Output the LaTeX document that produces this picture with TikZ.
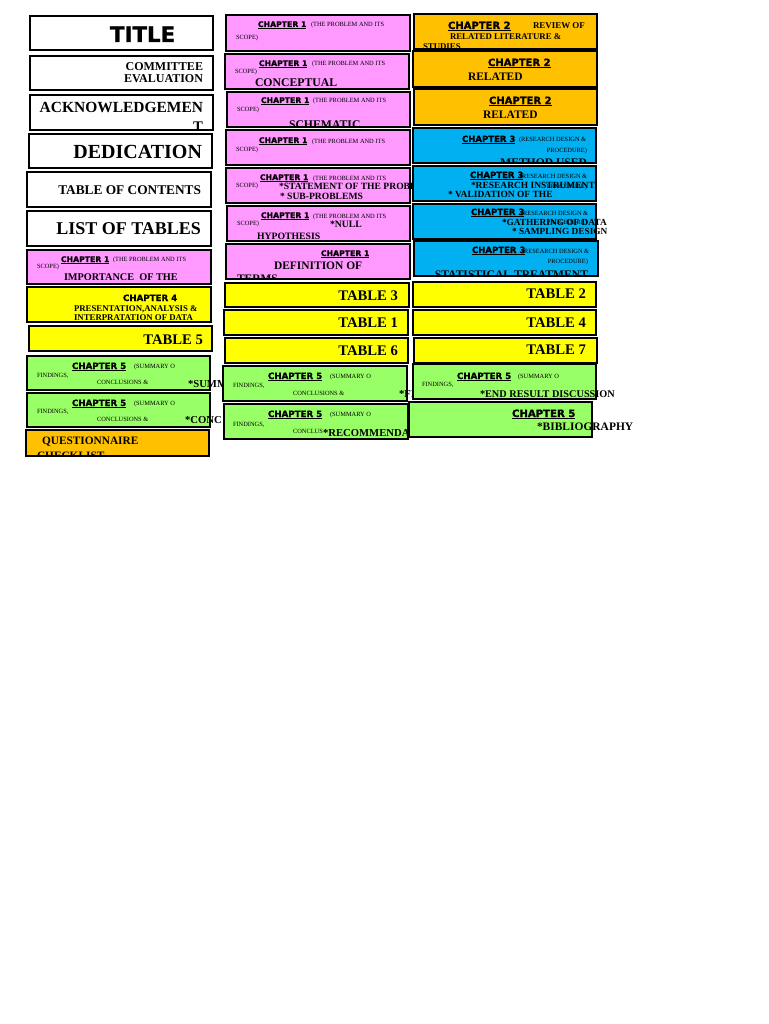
\documentclass[tikz,border=0pt]{standalone}
\usepackage{fontspec}
\setmainfont{Liberation Serif}
\newfontfamily\hvb[FakeBold=1.2]{DejaVu Sans Bold}
\definecolor{pk}{HTML}{FF99FF}
\definecolor{orr}{HTML}{FFC000}
\definecolor{bl}{HTML}{00B0F0}
\definecolor{ye}{HTML}{FFFF00}
\definecolor{gr}{HTML}{99FF66}
\newcommand\chul[1]{\setbox0\hbox{#1}\rlap{\rule[-1.3pt]{\wd0}{0.6pt}}\box0}
\tikzset{
 bd/.style={draw=black, line width=1.1pt},
 tl/.style={anchor=base west, inner sep=0pt, outer sep=0pt},
 tr/.style={anchor=base east, inner sep=0pt, outer sep=0pt},
 sm/.style={font=\fontsize{4.8}{5}\selectfont},
 ch/.style={font=\hvb\fontsize{#1}{#1}\selectfont},
 tb/.style={font=\bfseries\fontsize{#1}{#1}\selectfont},
}
\newcommand\cbox[6]{%
  \fill[#5] (#1,#2) rectangle (#3,#4);
  \begin{scope}\clip (#1,#2) rectangle (700,#4); #6 \end{scope}
  \draw[bd] (#1,#2) rectangle (#3,#4);}
\begin{document}
\begin{tikzpicture}[x=0.75pt,y=-0.75pt]
\fill[white] (0,0) rectangle (768,1024);
\useasboundingbox (0,0) rectangle (768,1024);
% ---------- column 1 ----------
\cbox{30}{16}{213}{50}{white}{\node[tl,ch=16] (a1) at (110,42) {TITLE};}
\cbox{30}{56}{213}{90}{white}{\node[tr,tb=9] (a2) at (203,71) {COMMITTEE}; \node[tr,tb=9] (a3) at (203,83) {EVALUATION};}
\cbox{30}{95}{213}{130}{white}{\node[tr,tb=11.6] (a4) at (203,113) {ACKNOWLEDGEMEN}; \node[tr,tb=11] (a5) at (203,131) {T};}
\cbox{29}{134}{212}{168}{white}{\node[tr,tb=15] (a6) at (202,158) {DEDICATION};}
\cbox{27}{172}{211}{207}{white}{\node[tr,tb=10] (a7) at (201,194) {TABLE OF CONTENTS};}
\cbox{27}{211}{211}{246}{white}{\node[tr,tb=13.5] (a8) at (201,234) {LIST OF TABLES};}
\cbox{27}{250}{211}{284}{pk}{\node[tl,ch=5.8] (a9) at (61,262) {\chul{CHAPTER 1}};
  \node[tl,sm] (a10) at (113,261) {(THE PROBLEM AND ITS};
  \node[tl,sm] (a11) at (37,268) {SCOPE)};
  \node[tl,tb=7.7] (a12) at (64,280) {IMPORTANCE\ \ OF THE};}
\cbox{27}{287}{211}{322}{ye}{\node[tl,ch=6.5] (a13) at (123,301) {CHAPTER 4};
  \node[tl,tb=6.6] (a14) at (74,311) {PRESENTATION,ANALYSIS \&};
  \node[tl,tb=6.6] (a15) at (74,320) {INTERPRATATION OF DATA};}
\cbox{29}{326}{212}{351}{ye}{\node[tr,tb=11] (a16) at (203,344) {TABLE 5};}
\cbox{27}{356}{210}{390}{gr}{\node[tl,ch=6.5] (a17) at (72,369) {\chul{CHAPTER 5}};
  \node[tl,sm] (a18) at (134,368) {(SUMMARY O};
  \node[tl,sm] (a19) at (37,377) {FINDINGS,};
  \node[tl,sm] (a20) at (97,384) {CONCLUSIONS \&};
  \node[tl,tb=8] (a21) at (188,387) {*SUMM};}
\cbox{27}{393}{210}{427}{gr}{\node[tl,ch=6.5] (a22) at (72,406) {\chul{CHAPTER 5}};
  \node[tl,sm] (a23) at (134,405) {(SUMMARY O};
  \node[tl,sm] (a24) at (37,413) {FINDINGS,};
  \node[tl,sm] (a25) at (97,421) {CONCLUSIONS \&};
  \node[tl,tb=8] (a26) at (185,423) {*CONC};}
\cbox{26}{430}{209}{456}{orr}{\node[tl,tb=8.5] (a27) at (42,444) {QUESTIONNAIRE};
  \node[tl,tb=8.5] (a28) at (37,459) {CHECKLIST};}
% ---------- column 2 ----------
\cbox{226}{15}{410}{51}{pk}{\node[tl,ch=5.8] (b1) at (258,27) {\chul{CHAPTER 1}};
  \node[tl,sm] (b2) at (311,27) {(THE PROBLEM AND ITS};
  \node[tl,sm] (b3) at (236,40) {SCOPE)};}
\cbox{225}{54}{409}{89}{pk}{\node[tl,ch=5.8] (b4) at (259,66) {\chul{CHAPTER 1}};
  \node[tl,sm] (b5) at (312,66) {(THE PROBLEM AND ITS};
  \node[tl,sm] (b6) at (235,74) {SCOPE)};
  \node[tl,tb=8.8] (b7) at (255,86) {CONCEPTUAL};}
\cbox{227}{92}{410}{127}{pk}{\node[tl,ch=5.8] (b8) at (261,103) {\chul{CHAPTER 1}};
  \node[tl,sm] (b9) at (313,103) {(THE PROBLEM AND ITS};
  \node[tl,sm] (b10) at (237,111) {SCOPE)};
  \node[tl,tb=8.8] (b11) at (289,128) {SCHEMATIC};}
\cbox{226}{130}{410}{165}{pk}{\node[tl,ch=5.8] (b12) at (259,143) {\chul{CHAPTER 1}};
  \node[tl,sm] (b13) at (312,143) {(THE PROBLEM AND ITS};
  \node[tl,sm] (b14) at (236,151) {SCOPE)};}
\cbox{226}{168}{410}{203}{pk}{\node[tl,ch=5.8] (b15) at (260,180) {\chul{CHAPTER 1}};
  \node[tl,sm] (b16) at (313,180) {(THE PROBLEM AND ITS};
  \node[tl,sm] (b17) at (236,187) {SCOPE)};
  \node[tl,tb=7.2] (b18) at (279,189) {*STATEMENT OF THE PROBLEM};
  \node[tl,tb=7.2] (b19) at (280,199) {* SUB-PROBLEMS};}
\cbox{227}{206}{410}{241}{pk}{\node[tl,ch=5.8] (b20) at (261,218) {\chul{CHAPTER 1}};
  \node[tl,sm] (b21) at (313,218) {(THE PROBLEM AND ITS};
  \node[tl,sm] (b22) at (237,225) {SCOPE)};
  \node[tl,tb=7.3] (b23) at (330,227) {*NULL};
  \node[tl,tb=7.3] (b24) at (257,239) {HYPOTHESIS};}
\cbox{226}{244}{410}{279}{pk}{\node[tl,ch=5.8] (b25) at (321,256) {\chul{CHAPTER 1}};
  \node[tl,tb=8.6] (b26) at (274,269) {DEFINITION OF};
  \node[tl,tb=8.6] (b27) at (237,282) {TERMS};}
\cbox{225}{283}{409}{307}{ye}{\node[tr,tb=11] (b28) at (398,300) {TABLE 3};}
\cbox{224}{310}{408}{335}{ye}{\node[tr,tb=11] (b29) at (398,327) {TABLE 1};}
\cbox{225}{338}{408}{363}{ye}{\node[tr,tb=11] (b30) at (398,355) {TABLE 6};}
\cbox{223}{366}{407}{401}{gr}{\node[tl,ch=6.5] (b31) at (268,379) {\chul{CHAPTER 5}};
  \node[tl,sm] (b32) at (330,378) {(SUMMARY O};
  \node[tl,sm] (b33) at (233,387) {FINDINGS,};
  \node[tl,sm] (b34) at (293,395) {CONCLUSIONS \&};
  \node[tl,tb=8] (b35) at (399,397) {*FI};}
\cbox{224}{404}{408}{439}{gr}{\node[tl,ch=6.5] (b36) at (268,417) {\chul{CHAPTER 5}};
  \node[tl,sm] (b37) at (330,416) {(SUMMARY O};
  \node[tl,sm] (b38) at (233,426) {FINDINGS,};
  \node[tl,sm] (b39) at (293,433) {CONCLUS};
  \node[tl,tb=8] (b40) at (323,436) {*RECOMMENDA};}
% ---------- column 3 ----------
\cbox{414}{14}{597}{49}{orr}{\node[tl,ch=7.5] (c1) at (448,29) {\chul{CHAPTER 2}};
  \node[tl,tb=6.7] (c2) at (533,29) {REVIEW OF};
  \node[tl,tb=6.6] (c3) at (450,40) {RELATED LITERATURE \&};
  \node[tl,tb=6.6] (c4) at (423,50) {STUDIES};}
\cbox{413}{51}{597}{87}{orr}{\node[tl,ch=7.5] (c5) at (488,66) {\chul{CHAPTER 2}};
  \node[tl,tb=8.6] (c6) at (468,80) {RELATED};}
\cbox{414}{89}{597}{125}{orr}{\node[tl,ch=7.5] (c7) at (489,104) {\chul{CHAPTER 2}};
  \node[tl,tb=8.6] (c8) at (483,118) {RELATED};}
\cbox{413}{128}{596}{163}{bl}{\node[tl,ch=6.4] (c9) at (462,142) {\chul{CHAPTER 3}};
  \node[tl,sm] (c10) at (519,142) {(RESEARCH DESIGN \&};
  \node[tr,sm] (c11) at (587,152) {PROCEDURE)};
  \node[tr,tb=8.7] (c12) at (587,166) {METHOD USED};}
\cbox{413}{166}{596}{201}{bl}{\node[tl,ch=6.4] (c13) at (470,178) {\chul{CHAPTER 3}};
  \node[tl,sm] (c14) at (520,178) {(RESEARCH DESIGN \&};
  \node[tr,sm] (c15) at (587,188) {PROCEDURE)};
  \node[tl,tb=7.1] (c16) at (471,188) {*RESEARCH INSTRUMENT};
  \node[tl,tb=7.1] (c17) at (448,197) {* VALIDATION OF THE};}
\cbox{413}{204}{596}{239}{bl}{\node[tl,ch=6.4] (c18) at (471,215) {\chul{CHAPTER 3}};
  \node[tl,sm] (c19) at (521,215) {(RESEARCH DESIGN \&};
  \node[tr,sm] (c20) at (587,224) {PROCEDURE)};
  \node[tl,tb=7] (c21) at (502,225) {*GATHERING OF DATA};
  \node[tl,tb=7] (c22) at (512,234) {* SAMPLING DESIGN};}
\cbox{414}{241}{598}{276}{bl}{\node[tl,ch=6.4] (c23) at (472,253) {\chul{CHAPTER 3}};
  \node[tl,sm] (c24) at (522,253) {(RESEARCH DESIGN \&};
  \node[tr,sm] (c25) at (588,263) {PROCEDURE)};
  \node[tr,tb=8.7] (c26) at (588,278) {STATISTICAL TREATMENT};}
\cbox{413}{282}{596}{307}{ye}{\node[tr,tb=11] (c27) at (586,298) {TABLE 2};}
\cbox{413}{310}{596}{335}{ye}{\node[tr,tb=11] (c28) at (586,327) {TABLE 4};}
\cbox{414}{338}{597}{363}{ye}{\node[tr,tb=11] (c29) at (586,354) {TABLE 7};}
\cbox{413}{364}{596}{399}{gr}{\node[tl,ch=6.5] (c30) at (457,379) {\chul{CHAPTER 5}};
  \node[tl,sm] (c31) at (518,378) {(SUMMARY O};
  \node[tl,sm] (c32) at (422,386) {FINDINGS,};
  \node[tl,tb=7.7] (c33) at (480,397) {*END RESULT DISCUSSION};}
\cbox{409}{402}{592}{437}{gr}{\node[tl,ch=7.6] (c34) at (512,417) {\chul{CHAPTER 5}};
  \node[tl,tb=8.6] (c35) at (537,430) {*BIBLIOGRAPHY};}
\end{tikzpicture}
\end{document}
